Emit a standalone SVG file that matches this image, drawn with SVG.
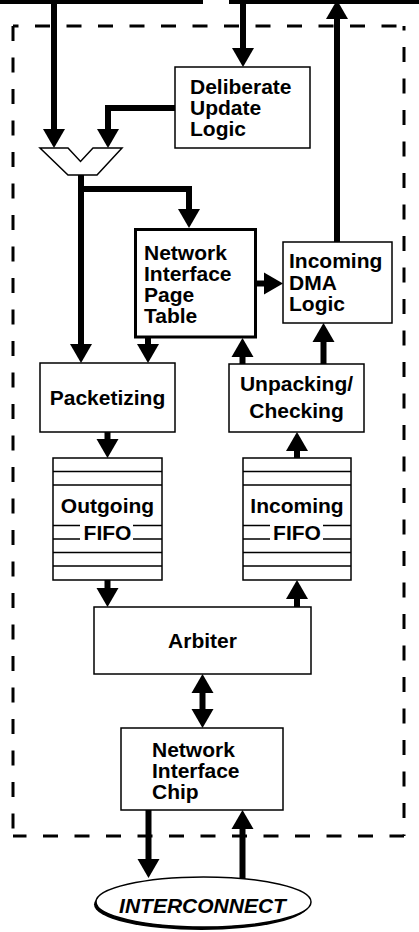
<svg xmlns="http://www.w3.org/2000/svg" width="419" height="932" viewBox="0 0 419 932">
<style>
  .box { fill: #fff; stroke: #000; stroke-width: 1.5; }
  .thick { fill: #fff; stroke: #000; stroke-width: 3; }
  .ln { fill: none; stroke: #000; stroke-width: 6; }
  .row { fill: none; stroke: #000; stroke-width: 1.5; }
  .dash { fill: none; stroke: #000; stroke-width: 3; stroke-dasharray: 15 16.5; }
  text { font-family: "Liberation Sans", Arial, Helvetica, sans-serif; font-weight: bold; font-size: 21px; fill: #000; }
  .c { text-anchor: middle; }
</style>
<defs>
  <path id="ah" d="M-11,-19 L11,-19 L0,0 Z" fill="#000"/>
</defs>
<rect width="419" height="932" fill="#fff"/>

<g id="boundary">
  <path class="dash" d="M13,26 H404" stroke-dashoffset="9.5"/>
  <path class="dash" d="M13,26 V836"/>
  <path class="dash" d="M404,26 V836" stroke-dashoffset="10.5"/>
  <path class="dash" d="M13,836 H404" stroke-dashoffset="1.5"/>
</g>

<g id="buses">
  <rect x="0" y="0" width="203" height="4" fill="#000"/>
  <rect x="229" y="0" width="190" height="4" fill="#000"/>
</g>

<g id="connectors">
  <path class="ln" d="M54,0 V130"/>
  <use href="#ah" transform="translate(54,148)"/>
  <path class="ln" d="M243,0 V49"/>
  <use href="#ah" transform="translate(243,67)"/>
  <path class="ln" d="M175,108 H108 V130"/>
  <use href="#ah" transform="translate(108,148)"/>
  <path class="ln" d="M81,175 V189 H189 V210"/>
  <use href="#ah" transform="translate(189,228)"/>
  <path class="ln" d="M81,189 V345"/>
  <use href="#ah" transform="translate(81,363)"/>
  <path class="ln" d="M148,337 V345"/>
  <use href="#ah" transform="translate(148,363)"/>
  <path class="ln" d="M337,242 V18"/>
  <use href="#ah" transform="translate(337,0) rotate(180)"/>
  <path class="ln" d="M257,283.5 H265"/>
  <use href="#ah" transform="translate(283,283.5) rotate(-90)"/>
  <path class="ln" d="M242.5,364 V356"/>
  <use href="#ah" transform="translate(242.5,338) rotate(180)"/>
  <path class="ln" d="M323.5,364 V341"/>
  <use href="#ah" transform="translate(323.5,323) rotate(180)"/>
  <path class="ln" d="M107.5,432 V440"/>
  <use href="#ah" transform="translate(107.5,458)"/>
  <path class="ln" d="M107.5,580 V589"/>
  <use href="#ah" transform="translate(107.5,607)"/>
  <path class="ln" d="M297,607 V598"/>
  <use href="#ah" transform="translate(297,580) rotate(180)"/>
  <path class="ln" d="M297,458 V450"/>
  <use href="#ah" transform="translate(297,432) rotate(180)"/>
  <path class="ln" d="M202.5,693 V710"/>
  <use href="#ah" transform="translate(202.5,674) rotate(180)"/>
  <use href="#ah" transform="translate(202.5,728)"/>
  <path class="ln" d="M148.5,810 V860"/>
  <use href="#ah" transform="translate(148.5,878)"/>
  <path class="ln" d="M242.5,879 V828"/>
  <use href="#ah" transform="translate(242.5,810) rotate(180)"/>
</g>

<g id="mux">
  <polygon class="box" points="40,148 68,148 80.5,161.5 93,148 122,148 97,175 68,175"/>
</g>

<g id="deliberate-update-logic">
  <rect class="box" x="175" y="67" width="135" height="81"/>
  <text x="190" y="94">Deliberate</text>
  <text x="190" y="115">Update</text>
  <text x="190" y="136">Logic</text>
</g>

<g id="page-table">
  <rect class="thick" x="135.5" y="229.5" width="120" height="107.5"/>
  <text x="144" y="260">Network</text>
  <text x="144" y="281">Interface</text>
  <text x="144" y="302">Page</text>
  <text x="144" y="323">Table</text>
</g>

<g id="incoming-dma">
  <rect class="box" x="283" y="242" width="109" height="81"/>
  <text x="289" y="268">Incoming</text>
  <text x="289" y="289.5">DMA</text>
  <text x="289" y="311">Logic</text>
</g>

<g id="packetizing">
  <rect class="box" x="40" y="363" width="135" height="69"/>
  <text class="c" x="107.5" y="405">Packetizing</text>
</g>

<g id="unpacking">
  <rect class="box" x="229" y="364" width="135" height="68"/>
  <text class="c" x="296.5" y="391">Unpacking/</text>
  <text class="c" x="296.5" y="418">Checking</text>
</g>

<g id="outgoing-fifo">
  <rect class="box" x="53" y="458" width="109" height="122"/>
  <path class="row" d="M53,471.5 H162 M53,485 H162 M53,525.5 H80 M133,525.5 H162 M53,539 H80 M133,539 H162 M53,552.5 H162 M53,566 H162"/>
  <text class="c" x="107.5" y="513">Outgoing</text>
  <text class="c" x="107.5" y="540">FIFO</text>
</g>

<g id="incoming-fifo">
  <rect class="box" x="243" y="458" width="108" height="122"/>
  <path class="row" d="M243,471.5 H351 M243,485 H351 M243,525.5 H270 M323,525.5 H351 M243,539 H270 M323,539 H351 M243,552.5 H351 M243,566 H351"/>
  <text class="c" x="297" y="513">Incoming</text>
  <text class="c" x="297" y="540">FIFO</text>
</g>

<g id="arbiter">
  <rect class="box" x="94" y="607" width="217" height="67"/>
  <text class="c" x="202.5" y="648">Arbiter</text>
</g>

<g id="nic">
  <rect class="box" x="121" y="728" width="162" height="82"/>
  <text x="152" y="757">Network</text>
  <text x="152" y="778">Interface</text>
  <text x="152" y="799">Chip</text>
</g>

<g id="interconnect">
  <ellipse cx="201.5" cy="904.5" rx="107.5" ry="25.5" fill="#000"/>
  <ellipse class="box" cx="203.5" cy="902" rx="107.5" ry="25"/>
  <text class="c" x="202.5" y="913" font-style="italic">INTERCONNECT</text>
</g>
</svg>
